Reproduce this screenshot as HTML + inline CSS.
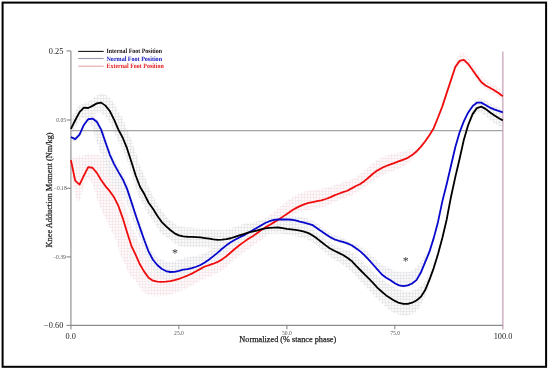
<!DOCTYPE html>
<html><head><meta charset="utf-8"><style>html,body{margin:0;padding:0;background:#fff;width:550px;height:370px;overflow:hidden}svg{display:block}</style></head>
<body><svg width="550" height="370" viewBox="0 0 550 370">
<defs>
<filter id="soft" x="0" y="0" width="550" height="370" filterUnits="userSpaceOnUse"><feConvolveMatrix color-interpolation-filters="sRGB" order="3" kernelMatrix="1 8 1 8 64 8 1 8 1" divisor="100" edgeMode="duplicate"/></filter>
<pattern id="pg" width="3" height="3" patternUnits="userSpaceOnUse">
<rect x="1" y="0" width="1" height="3" fill="#e5e5e5"/><rect x="0" y="2" width="3" height="1" fill="#e5e5e5"/>
</pattern>
<pattern id="pb" width="3" height="3" patternUnits="userSpaceOnUse">
<rect x="1" y="0" width="1" height="3" fill="#e6e5ea"/><rect x="0" y="2" width="3" height="1" fill="#e6e5ea"/>
</pattern>
<pattern id="pr" width="3" height="3" patternUnits="userSpaceOnUse">
<rect x="1" y="0" width="1" height="3" fill="#f6e6e9"/><rect x="0" y="2" width="3" height="1" fill="#f6e6e9"/>
</pattern>
</defs>
<rect width="550" height="370" fill="#fff"/>
<g filter="url(#soft)">
<rect width="550" height="370" fill="#fff"/>
<path d="M70.7,155.0 71.7,157.5 72.7,158.0 73.7,157.7 74.7,156.4 75.7,157.1 76.7,157.9 77.7,157.7 78.7,156.6 79.7,155.4 80.7,156.0 81.7,156.2 82.7,155.9 83.7,155.5 84.7,154.9 85.7,154.4 86.7,154.2 87.7,154.4 88.7,154.0 89.7,153.7 90.7,153.9 91.7,154.4 92.7,154.5 93.7,154.4 94.7,154.5 95.7,154.7 96.7,154.7 97.7,154.8 98.7,154.9 99.7,155.0 100.7,156.3 101.7,158.1 102.7,159.9 103.7,161.6 104.7,163.2 105.7,164.6 106.7,165.8 107.7,167.0 108.7,168.2 109.7,169.4 110.7,170.6 111.7,171.8 112.7,173.2 113.7,174.7 114.7,176.3 115.7,178.2 116.7,180.2 117.7,182.5 118.7,185.0 119.7,187.7 120.7,190.5 121.7,193.5 122.7,196.6 123.7,199.8 124.7,203.2 125.7,206.6 126.7,210.0 127.7,213.5 128.7,217.0 129.7,220.3 130.7,223.3 131.7,225.9 132.7,228.0 133.7,229.9 134.7,231.9 135.7,234.0 136.7,236.4 137.7,238.9 138.7,241.3 139.7,243.7 140.7,245.9 141.7,247.9 142.7,249.8 143.7,251.4 144.7,253.0 145.7,254.4 146.7,255.6 147.7,256.7 148.7,257.7 149.7,258.5 150.7,260.1 151.7,261.9 152.7,263.6 153.7,265.3 154.7,266.8 155.7,268.3 156.7,269.7 157.7,271.0 158.7,272.3 159.7,273.6 160.7,274.0 161.7,274.0 162.7,274.0 163.7,274.0 164.7,273.9 165.7,273.8 166.7,273.7 167.7,273.6 168.7,273.5 169.7,273.3 170.7,273.1 171.7,272.9 172.7,272.7 173.7,272.5 174.7,272.2 175.7,272.0 176.7,271.7 177.7,271.4 178.7,271.1 179.7,270.7 180.7,270.4 181.7,270.0 182.7,269.6 183.7,269.2 184.7,268.8 185.7,268.4 186.7,267.9 187.7,267.5 188.7,267.0 189.7,266.5 190.7,266.0 191.7,265.5 192.7,264.9 193.7,264.4 194.7,263.9 195.7,263.3 196.7,262.8 197.7,262.3 198.7,261.7 199.7,261.2 200.7,260.7 201.7,260.2 202.7,259.7 203.7,259.3 204.7,258.8 205.7,258.4 206.7,258.1 207.7,257.7 208.7,257.4 209.7,257.0 210.7,256.7 211.7,256.3 212.7,256.0 213.7,255.6 214.7,255.2 215.7,254.8 216.7,254.4 217.7,254.0 218.7,253.5 219.7,253.0 220.7,252.4 221.7,251.8 222.7,251.2 223.7,250.5 224.7,249.7 225.7,248.9 226.7,248.0 227.7,247.2 228.7,246.3 229.7,245.4 230.7,244.5 231.7,243.6 232.7,242.8 233.7,241.9 234.7,241.1 235.7,240.3 236.7,239.5 237.7,238.7 238.7,237.9 239.7,237.1 240.7,236.3 241.7,235.6 242.7,234.8 243.7,234.1 244.7,233.4 245.7,232.6 246.7,231.9 247.7,231.2 248.7,230.5 249.7,229.8 250.7,229.2 251.7,228.5 252.7,227.8 253.7,227.1 254.7,226.5 255.7,225.8 256.7,225.2 257.7,224.5 258.7,223.9 259.7,223.2 260.7,222.6 261.7,222.0 262.7,221.2 263.7,220.3 264.7,219.5 265.7,218.6 266.7,217.8 267.7,216.9 268.7,216.1 269.7,215.2 270.7,214.4 271.7,213.5 272.7,212.7 273.7,211.8 274.7,210.9 275.7,210.1 276.7,209.4 277.7,208.6 278.7,207.8 279.7,207.1 280.7,206.3 281.7,205.5 282.7,204.7 283.7,203.9 284.7,203.1 285.7,202.3 286.7,201.5 287.7,200.6 288.7,199.8 289.7,199.0 290.7,198.3 291.7,197.7 292.7,197.1 293.7,196.5 294.7,195.9 295.7,195.4 296.7,194.9 297.7,194.3 298.7,193.9 299.7,193.4 300.7,193.0 301.7,192.6 302.7,192.3 303.7,192.0 304.7,191.7 305.7,191.4 306.7,191.2 307.7,191.0 308.7,190.8 309.7,190.6 310.7,190.4 311.7,190.3 312.7,190.1 313.7,190.0 314.7,189.9 315.7,189.7 316.7,189.6 317.7,189.5 318.7,189.3 319.7,189.2 320.7,189.0 321.7,188.8 322.7,188.6 323.7,188.4 324.7,188.1 325.7,187.9 326.7,187.6 327.7,187.3 328.7,187.0 329.7,186.7 330.7,186.4 331.7,186.1 332.7,185.7 333.7,185.4 334.7,185.1 335.7,184.7 336.7,184.4 337.7,184.0 338.7,183.7 339.7,183.3 340.7,183.0 341.7,182.7 342.7,182.3 343.7,182.0 344.7,181.6 345.7,181.3 346.7,181.0 347.7,180.6 348.7,180.2 349.7,179.9 350.7,179.5 351.7,179.1 352.7,178.7 353.7,178.3 354.7,177.9 355.7,177.4 356.7,176.8 357.7,176.0 358.7,175.1 359.7,174.3 360.7,173.4 361.7,172.5 362.7,171.6 363.7,170.7 364.7,169.9 365.7,169.1 366.7,168.3 367.7,167.5 368.7,166.7 369.7,165.8 370.7,164.9 371.7,164.1 372.7,163.2 373.7,162.5 374.7,161.7 375.7,161.0 376.7,160.3 377.7,159.7 378.7,159.1 379.7,158.5 380.7,158.0 381.7,157.5 382.7,157.1 383.7,156.7 384.7,156.3 385.7,155.9 386.7,155.6 387.7,155.2 388.7,154.9 389.7,154.6 390.7,154.4 391.7,154.1 392.7,153.9 393.7,153.6 394.7,153.4 395.7,153.2 396.7,152.9 397.7,152.7 398.7,152.5 399.7,152.2 400.7,152.0 401.7,151.8 402.7,151.5 403.7,151.3 404.7,151.0 405.7,150.7 406.7,150.4 407.7,150.0 408.7,149.6 409.7,149.1 410.7,149.2 411.7,149.4 412.7,149.6 413.7,149.7 414.7,149.8 415.7,149.5 416.7,148.9 417.7,148.3 418.7,147.7 419.7,147.0 420.7,145.9 421.7,144.8 422.7,143.5 423.7,142.3 424.7,141.0 425.7,139.6 426.7,138.3 427.7,136.9 428.7,135.5 429.7,134.1 430.7,132.6 431.7,131.1 432.7,129.2 433.7,127.1 434.7,124.6 435.7,122.1 436.7,119.7 437.7,117.4 438.7,115.1 439.7,112.8 440.7,110.2 441.7,107.4 442.7,104.4 443.7,101.3 444.7,98.2 445.7,95.0 446.7,91.8 447.7,88.7 448.7,85.7 449.7,82.7 450.7,79.2 451.7,75.4 452.7,71.5 453.7,67.6 454.7,64.0 455.7,61.1 456.7,58.9 457.7,57.0 458.7,55.5 459.7,54.4 460.7,53.6 461.7,53.2 462.7,53.0 463.7,53.3 464.7,53.9 465.7,54.7 466.7,55.7 467.7,56.9 468.7,58.2 469.7,59.7 470.7,61.2 471.7,62.7 472.7,64.2 473.7,65.8 474.7,67.4 475.7,69.0 476.7,70.5 477.7,71.9 478.7,73.2 479.7,74.4 480.7,75.5 481.7,76.5 482.7,77.5 483.7,78.3 484.7,79.1 485.7,79.9 486.7,80.6 487.7,81.2 488.7,81.8 489.7,82.4 490.7,83.0 491.7,83.6 492.7,84.1 493.7,84.7 494.7,85.3 495.7,85.9 496.7,86.5 497.7,87.2 498.7,87.9 499.7,88.7 500.7,89.5 501.7,90.5 502.4,91.1 502.4,100.2 501.7,99.5 500.7,98.6 499.7,97.8 498.7,97.1 497.7,96.4 496.7,95.7 495.7,95.1 494.7,94.5 493.7,94.0 492.7,93.4 491.7,92.9 490.7,92.4 489.7,91.8 488.7,91.3 487.7,90.7 486.7,90.1 485.7,89.4 484.7,88.7 483.7,87.9 482.7,87.1 481.7,86.2 480.7,85.2 479.7,84.1 478.7,82.9 477.7,81.6 476.7,80.3 475.7,78.8 474.7,77.3 473.7,75.7 472.7,74.2 471.7,72.6 470.7,71.1 469.7,69.7 468.7,68.4 467.7,67.1 466.7,66.1 465.7,65.1 464.7,64.4 463.7,63.9 462.7,63.6 461.7,63.6 460.7,63.8 459.7,64.4 458.7,65.3 457.7,66.6 456.7,68.2 455.7,70.3 454.7,72.5 453.7,74.8 452.7,77.2 451.7,79.8 450.7,82.2 449.7,84.7 448.7,87.7 447.7,90.7 446.7,93.8 445.7,97.0 444.7,100.2 443.7,103.3 442.7,106.4 441.7,109.4 440.7,112.2 439.7,114.8 438.7,117.1 437.7,119.4 436.7,121.7 435.7,124.1 434.7,126.6 433.7,129.1 432.7,131.2 431.7,133.1 430.7,134.6 429.7,136.1 428.7,137.5 427.7,138.9 426.7,140.3 425.7,141.6 424.7,143.0 423.7,144.3 422.7,145.5 421.7,146.8 420.7,147.9 419.7,149.2 418.7,150.7 417.7,152.2 416.7,153.6 415.7,154.9 414.7,156.3 413.7,157.6 412.7,158.8 411.7,160.0 410.7,161.2 409.7,162.2 408.7,163.0 407.7,163.7 406.7,164.5 405.7,165.1 404.7,165.8 403.7,166.4 402.7,167.0 401.7,167.5 400.7,168.1 399.7,168.5 398.7,168.9 397.7,169.3 396.7,169.6 395.7,170.0 394.7,170.4 393.7,170.7 392.7,171.1 391.7,171.4 390.7,171.8 389.7,172.2 388.7,172.6 387.7,173.1 386.7,173.5 385.7,174.0 384.7,174.5 383.7,175.0 382.7,175.4 381.7,175.9 380.7,176.3 379.7,176.8 378.7,177.4 377.7,178.0 376.7,178.6 375.7,179.2 374.7,179.9 373.7,180.6 372.7,181.3 371.7,182.1 370.7,182.9 369.7,183.6 368.7,184.4 367.7,185.2 366.7,186.0 365.7,186.7 364.7,187.3 363.7,188.0 362.7,188.8 361.7,189.5 360.7,190.2 359.7,190.8 358.7,191.5 357.7,192.1 356.7,192.7 355.7,193.3 354.7,193.8 353.7,194.2 352.7,194.7 351.7,195.1 350.7,195.6 349.7,196.0 348.7,196.4 347.7,196.8 346.7,197.2 345.7,197.6 344.7,198.0 343.7,198.4 342.7,198.8 341.7,199.2 340.7,199.6 339.7,200.0 338.7,200.3 337.7,200.7 336.7,201.1 335.7,201.5 334.7,201.9 333.7,202.4 332.7,202.9 331.7,203.4 330.7,203.8 329.7,204.3 328.7,204.8 327.7,205.3 326.7,205.7 325.7,206.2 324.7,206.6 323.7,207.0 322.7,207.4 321.7,207.6 320.7,207.9 319.7,208.1 318.7,208.4 317.7,208.6 316.7,208.8 315.7,209.0 314.7,209.2 313.7,209.4 312.7,209.6 311.7,209.8 310.7,209.9 309.7,210.0 308.7,210.1 307.7,210.3 306.7,210.5 305.7,210.7 304.7,210.9 303.7,211.1 302.7,211.4 301.7,211.7 300.7,212.0 299.7,212.2 298.7,212.5 297.7,212.8 296.7,213.1 295.7,213.5 294.7,213.8 293.7,214.2 292.7,214.7 291.7,215.1 290.7,215.7 289.7,216.6 288.7,217.5 287.7,218.4 286.7,219.4 285.7,220.3 284.7,221.2 283.7,222.1 282.7,223.1 281.7,224.0 280.7,224.9 279.7,225.7 278.7,226.5 277.7,227.3 276.7,228.1 275.7,228.9 274.7,229.7 273.7,230.4 272.7,231.2 271.7,232.0 270.7,232.8 269.7,233.5 268.7,234.3 267.7,235.1 266.7,235.8 265.7,236.6 264.7,237.4 263.7,238.2 262.7,238.9 261.7,239.7 260.7,240.4 259.7,241.1 258.7,241.7 257.7,242.4 256.7,243.1 255.7,243.8 254.7,244.5 253.7,245.3 252.7,246.0 251.7,246.7 250.7,247.4 249.7,248.2 248.7,248.9 247.7,249.6 246.7,250.4 245.7,251.1 244.7,251.9 243.7,252.6 242.7,253.3 241.7,254.1 240.7,254.8 239.7,255.6 238.7,256.4 237.7,257.2 236.7,258.0 235.7,258.8 234.7,259.6 233.7,260.4 232.7,261.3 231.7,262.1 230.7,263.0 229.7,263.9 228.7,264.8 227.7,265.8 226.7,266.7 225.7,267.6 224.7,268.5 223.7,269.3 222.7,270.1 221.7,270.8 220.7,271.4 219.7,272.0 218.7,272.6 217.7,273.1 216.7,273.6 215.7,274.1 214.7,274.6 213.7,275.0 212.7,275.4 211.7,275.8 210.7,276.2 209.7,276.6 208.7,277.0 207.7,277.4 206.7,277.8 205.7,278.3 204.7,278.7 203.7,279.1 202.7,279.6 201.7,280.1 200.7,280.6 199.7,281.1 198.7,281.7 197.7,282.2 196.7,282.8 195.7,283.3 194.7,283.9 193.7,284.4 192.7,284.9 191.7,285.5 190.7,286.0 189.7,286.5 188.7,287.0 187.7,287.5 186.7,287.9 185.7,288.4 184.7,288.8 183.7,289.2 182.7,289.7 181.7,290.2 180.7,290.7 179.7,291.1 178.7,291.5 177.7,292.0 176.7,292.4 175.7,292.7 174.7,293.1 173.7,293.4 172.7,293.8 171.7,294.1 170.7,294.4 169.7,294.6 168.7,294.9 167.7,295.1 166.7,295.3 165.7,295.5 164.7,295.7 163.7,295.8 162.7,295.9 161.7,296.1 160.7,296.2 159.7,296.2 158.7,296.3 157.7,296.3 156.7,296.3 155.7,296.2 154.7,296.0 153.7,295.8 152.7,295.5 151.7,295.1 150.7,295.1 149.7,295.0 148.7,294.9 147.7,294.6 146.7,294.2 145.7,293.7 144.7,293.1 143.7,292.3 142.7,291.3 141.7,290.3 140.7,289.0 139.7,287.6 138.7,286.1 137.7,284.4 136.7,282.7 135.7,281.2 134.7,279.9 133.7,279.3 132.7,278.6 131.7,277.8 130.7,276.5 129.7,274.8 128.7,272.8 127.7,270.6 126.7,268.4 125.7,266.0 124.7,263.8 123.7,261.5 122.7,259.4 121.7,257.4 120.7,255.6 119.7,253.2 118.7,249.5 117.7,245.9 116.7,242.6 115.7,239.5 114.7,237.1 113.7,235.1 112.7,233.2 111.7,231.3 110.7,229.1 109.7,227.0 108.7,224.9 107.7,222.8 106.7,220.8 105.7,218.9 104.7,216.9 103.7,214.8 102.7,212.6 101.7,210.4 100.7,208.1 99.7,205.9 98.7,203.6 97.7,201.4 96.7,197.8 95.7,194.1 94.7,190.6 93.7,187.4 92.7,185.1 91.7,183.1 90.7,181.2 89.7,179.8 88.7,179.0 87.7,178.8 86.7,179.3 85.7,180.2 84.7,181.4 83.7,184.2 82.7,190.2 81.7,195.3 80.7,198.3 79.7,200.4 78.7,200.8 77.7,200.5 76.7,199.2 75.7,197.0 74.7,193.4 73.7,187.9 72.7,181.5 71.7,174.3 70.7,167.0Z" fill="url(#pr)"/>
<path d="M71.0,135.0 72.0,136.7 73.0,137.6 74.0,137.7 75.0,137.2 76.0,136.4 77.0,135.3 78.0,134.1 79.0,133.1 80.0,132.1 81.0,130.5 82.0,127.7 83.0,124.2 84.0,121.4 85.0,119.3 86.0,117.9 87.0,117.0 88.0,116.5 89.0,116.2 90.0,115.9 91.0,115.7 92.0,115.6 93.0,115.8 94.0,116.1 95.0,116.8 96.0,117.7 97.0,118.9 98.0,120.3 99.0,122.0 100.0,124.0 101.0,125.7 102.0,127.7 103.0,129.9 104.0,132.3 105.0,134.9 106.0,138.0 107.0,141.1 108.0,144.1 109.0,146.9 110.0,149.5 111.0,151.9 112.0,154.1 113.0,156.2 114.0,158.1 115.0,159.9 116.0,161.7 117.0,163.3 118.0,165.0 119.0,166.6 120.0,168.3 121.0,170.0 122.0,171.7 123.0,173.6 124.0,175.6 125.0,177.7 126.0,180.0 127.0,182.4 128.0,185.1 129.0,188.0 130.0,191.1 131.0,194.4 132.0,197.8 133.0,201.2 134.0,204.4 135.0,207.5 136.0,210.4 137.0,213.2 138.0,215.9 139.0,218.8 140.0,221.7 141.0,224.7 142.0,227.7 143.0,230.7 144.0,233.7 145.0,236.5 146.0,239.3 147.0,241.8 148.0,244.2 149.0,246.4 150.0,248.5 151.0,250.1 152.0,251.6 153.0,253.0 154.0,254.2 155.0,255.3 156.0,256.3 157.0,257.2 158.0,257.9 159.0,258.6 160.0,259.1 161.0,259.6 162.0,260.0 163.0,260.3 164.0,260.5 165.0,260.7 166.0,260.9 167.0,261.1 168.0,261.2 169.0,261.3 170.0,261.3 171.0,261.3 172.0,261.2 173.0,261.1 174.0,260.9 175.0,260.7 176.0,260.5 177.0,260.2 178.0,259.9 179.0,259.7 180.0,259.3 181.0,259.0 182.0,258.7 183.0,258.3 184.0,258.0 185.0,257.6 186.0,257.5 187.0,257.4 188.0,257.3 189.0,257.1 190.0,257.0 191.0,256.9 192.0,256.8 193.0,256.6 194.0,256.5 195.0,256.3 196.0,256.1 197.0,255.9 198.0,255.7 199.0,255.4 200.0,255.1 201.0,254.8 202.0,254.4 203.0,254.0 204.0,253.6 205.0,253.1 206.0,252.6 207.0,252.1 208.0,251.5 209.0,250.8 210.0,250.2 211.0,249.4 212.0,248.7 213.0,248.0 214.0,247.2 215.0,246.4 216.0,245.6 217.0,244.8 218.0,244.0 219.0,243.2 220.0,242.4 221.0,241.5 222.0,240.6 223.0,239.7 224.0,238.9 225.0,238.1 226.0,237.3 227.0,236.5 228.0,235.7 229.0,235.0 230.0,234.2 231.0,233.5 232.0,232.8 233.0,232.2 234.0,231.5 235.0,230.9 236.0,230.2 237.0,229.6 238.0,229.0 239.0,228.4 240.0,227.8 241.0,227.2 242.0,226.6 243.0,226.0 244.0,225.4 245.0,224.8 246.0,224.3 247.0,224.0 248.0,223.8 249.0,223.5 250.0,223.2 251.0,223.0 252.0,222.7 253.0,222.4 254.0,222.1 255.0,221.8 256.0,221.6 257.0,221.3 258.0,221.0 259.0,220.7 260.0,220.4 261.0,220.2 262.0,219.9 263.0,219.5 264.0,219.2 265.0,218.8 266.0,218.5 267.0,218.2 268.0,217.9 269.0,217.7 270.0,217.4 271.0,217.2 272.0,217.0 273.0,216.9 274.0,216.7 275.0,216.7 276.0,216.4 277.0,216.1 278.0,215.9 279.0,215.7 280.0,215.6 281.0,215.5 282.0,215.5 283.0,215.5 284.0,215.5 285.0,215.5 286.0,215.5 287.0,215.6 288.0,215.6 289.0,215.7 290.0,215.7 291.0,215.8 292.0,215.8 293.0,215.9 294.0,215.9 295.0,216.0 296.0,216.1 297.0,216.2 298.0,216.3 299.0,216.4 300.0,216.5 301.0,216.7 302.0,216.9 303.0,217.2 304.0,217.4 305.0,217.7 306.0,218.0 307.0,218.3 308.0,218.6 309.0,219.0 310.0,219.4 311.0,219.9 312.0,220.3 313.0,220.9 314.0,221.4 315.0,222.0 316.0,222.7 317.0,223.4 318.0,224.1 319.0,224.8 320.0,225.6 321.0,226.4 322.0,227.2 323.0,228.0 324.0,228.8 325.0,229.6 326.0,230.3 327.0,231.1 328.0,231.8 329.0,232.5 330.0,233.1 331.0,233.7 332.0,234.2 333.0,234.7 334.0,235.1 335.0,235.5 336.0,235.8 337.0,236.1 338.0,236.4 339.0,236.7 340.0,237.0 341.0,237.4 342.0,237.9 343.0,238.4 344.0,239.0 345.0,239.5 346.0,240.1 347.0,240.7 348.0,241.3 349.0,241.9 350.0,242.6 351.0,242.8 352.0,243.0 353.0,243.3 354.0,243.5 355.0,243.9 356.0,244.2 357.0,244.6 358.0,245.1 359.0,245.6 360.0,246.1 361.0,246.7 362.0,247.4 363.0,248.2 364.0,248.9 365.0,249.7 366.0,250.5 367.0,251.4 368.0,252.2 369.0,253.1 370.0,254.0 371.0,254.9 372.0,255.9 373.0,256.8 374.0,257.8 375.0,258.8 376.0,259.7 377.0,260.7 378.0,261.6 379.0,262.5 380.0,263.4 381.0,264.3 382.0,265.0 383.0,265.6 384.0,266.0 385.0,266.3 386.0,266.5 387.0,266.8 388.0,267.1 389.0,267.5 390.0,268.0 391.0,268.7 392.0,269.3 393.0,269.8 394.0,270.3 395.0,270.7 396.0,271.1 397.0,271.4 398.0,271.7 399.0,271.9 400.0,272.1 401.0,272.2 402.0,272.3 403.0,272.3 404.0,272.2 405.0,272.1 406.0,272.1 407.0,272.1 408.0,272.0 409.0,271.8 410.0,271.6 411.0,271.2 412.0,270.8 413.0,270.2 414.0,269.5 415.0,268.8 416.0,267.9 417.0,266.9 418.0,265.7 419.0,264.3 420.0,262.8 421.0,261.6 422.0,260.2 423.0,258.4 424.0,256.5 425.0,254.9 426.0,253.9 427.0,252.9 428.0,251.5 429.0,249.3 430.0,246.7 431.0,243.9 432.0,241.0 433.0,237.9 434.0,234.9 435.0,232.0 436.0,228.7 437.0,225.2 438.0,221.1 439.0,215.9 440.0,210.1 441.0,204.7 442.0,200.4 443.0,196.6 444.0,193.1 445.0,189.4 446.0,185.5 447.0,181.4 448.0,177.2 449.0,173.0 450.0,168.6 451.0,164.1 452.0,159.5 453.0,154.9 454.0,150.6 455.0,146.8 456.0,143.6 457.0,140.3 458.0,136.4 459.0,132.4 460.0,129.2 461.0,126.5 462.0,124.1 463.0,121.7 464.0,119.3 465.0,117.0 466.0,114.8 467.0,112.9 468.0,111.2 469.0,109.7 470.0,108.2 471.0,106.4 472.0,104.6 473.0,103.0 474.0,101.6 475.0,100.4 476.0,99.6 477.0,98.9 478.0,98.4 479.0,98.1 480.0,98.0 481.0,98.3 482.0,98.7 483.0,99.2 484.0,99.7 485.0,100.3 486.0,100.8 487.0,101.4 488.0,102.0 489.0,102.6 490.0,103.1 491.0,103.7 492.0,104.2 493.0,104.7 494.0,105.2 495.0,105.7 496.0,106.2 497.0,106.6 498.0,107.0 499.0,107.3 500.0,107.7 501.0,107.9 502.0,108.2 502.4,108.2 502.4,116.3 502.0,116.2 501.0,116.0 500.0,115.7 499.0,115.4 498.0,115.1 497.0,114.7 496.0,114.3 495.0,113.9 494.0,113.4 493.0,113.0 492.0,112.5 491.0,111.9 490.0,111.4 489.0,110.9 488.0,110.3 487.0,109.8 486.0,109.2 485.0,108.7 484.0,108.1 483.0,107.6 482.0,107.1 481.0,106.8 480.0,106.5 479.0,106.1 478.0,105.8 477.0,105.7 476.0,105.9 475.0,106.2 474.0,106.8 473.0,107.6 472.0,108.7 471.0,110.0 470.0,111.2 469.0,112.7 468.0,114.2 467.0,115.8 466.0,117.7 465.0,119.9 464.0,122.2 463.0,124.6 462.0,127.0 461.0,129.4 460.0,132.1 459.0,135.3 458.0,139.3 457.0,143.2 456.0,146.4 455.0,149.7 454.0,153.5 453.0,157.8 452.0,162.3 451.0,166.9 450.0,171.4 449.0,175.7 448.0,180.0 447.0,184.2 446.0,188.2 445.0,192.2 444.0,195.8 443.0,199.3 442.0,203.1 441.0,207.4 440.0,212.8 439.0,218.6 438.0,223.8 437.0,227.9 436.0,231.4 435.0,234.7 434.0,238.1 433.0,241.6 432.0,245.1 431.0,248.5 430.0,251.8 429.0,254.9 428.0,257.6 427.0,259.8 426.0,261.7 425.0,263.6 424.0,266.0 423.0,268.8 422.0,271.4 421.0,273.8 420.0,275.8 419.0,277.5 418.0,279.0 417.0,280.3 416.0,281.5 415.0,282.5 414.0,283.4 413.0,284.2 412.0,284.9 411.0,285.5 410.0,286.0 409.0,286.5 408.0,286.8 407.0,287.0 406.0,287.2 405.0,287.3 404.0,287.3 403.0,287.2 402.0,287.1 401.0,286.9 400.0,286.7 399.0,286.4 398.0,286.1 397.0,285.7 396.0,285.2 395.0,284.7 394.0,284.2 393.0,283.6 392.0,282.9 391.0,282.2 390.0,281.4 389.0,280.7 388.0,280.0 387.0,279.4 386.0,278.9 385.0,278.4 384.0,277.9 383.0,277.2 382.0,276.3 381.0,275.4 380.0,274.3 379.0,273.2 378.0,272.0 377.0,270.8 376.0,269.6 375.0,268.4 374.0,267.2 373.0,266.1 372.0,264.9 371.0,263.8 370.0,262.7 369.0,261.6 368.0,260.5 367.0,259.5 366.0,258.4 365.0,257.4 364.0,256.5 363.0,255.5 362.0,254.6 361.0,253.7 360.0,252.9 359.0,252.1 358.0,251.3 357.0,250.6 356.0,249.9 355.0,249.2 354.0,248.6 353.0,248.0 352.0,247.5 351.0,247.0 350.0,246.5 349.0,246.1 348.0,245.6 347.0,245.2 346.0,244.9 345.0,244.5 344.0,244.2 343.0,243.9 342.0,243.6 341.0,243.3 340.0,243.1 339.0,242.8 338.0,242.6 337.0,242.3 336.0,242.1 335.0,241.8 334.0,241.5 333.0,241.1 332.0,240.7 331.0,240.2 330.0,239.7 329.0,239.1 328.0,238.5 327.0,237.8 326.0,237.1 325.0,236.4 324.0,235.6 323.0,234.9 322.0,234.1 321.0,233.4 320.0,232.7 319.0,231.9 318.0,231.2 317.0,230.6 316.0,229.9 315.0,229.3 314.0,228.8 313.0,228.2 312.0,227.8 311.0,227.3 310.0,226.9 309.0,226.6 308.0,226.3 307.0,226.0 306.0,225.7 305.0,225.4 304.0,225.2 303.0,225.0 302.0,224.8 301.0,224.6 300.0,224.5 299.0,224.3 298.0,224.2 297.0,224.0 296.0,223.9 295.0,223.8 294.0,223.6 293.0,223.5 292.0,223.4 291.0,223.3 290.0,223.2 289.0,223.1 288.0,223.0 287.0,222.9 286.0,222.8 285.0,222.7 284.0,222.6 283.0,222.6 282.0,222.5 281.0,222.5 280.0,222.5 279.0,222.6 278.0,222.7 277.0,222.9 276.0,223.1 275.0,223.3 274.0,223.6 273.0,223.9 272.0,224.2 271.0,224.6 270.0,225.0 269.0,225.4 268.0,225.8 267.0,226.3 266.0,226.8 265.0,227.3 264.0,227.8 263.0,228.4 262.0,228.9 261.0,229.5 260.0,230.1 259.0,230.7 258.0,231.3 257.0,232.0 256.0,232.6 255.0,233.2 254.0,233.8 253.0,234.5 252.0,235.1 251.0,235.7 250.0,236.3 249.0,236.9 248.0,237.5 247.0,238.1 246.0,238.7 245.0,239.3 244.0,239.8 243.0,240.4 242.0,241.0 241.0,241.5 240.0,242.1 239.0,242.7 238.0,243.2 237.0,243.8 236.0,244.4 235.0,245.0 234.0,245.6 233.0,246.2 232.0,246.8 231.0,247.5 230.0,248.1 229.0,248.8 228.0,249.5 227.0,250.3 226.0,251.0 225.0,251.8 224.0,252.5 223.0,253.4 222.0,254.2 221.0,255.1 220.0,255.9 219.0,256.8 218.0,257.8 217.0,258.7 216.0,259.6 215.0,260.5 214.0,261.4 213.0,262.3 212.0,263.2 211.0,264.1 210.0,264.9 209.0,265.7 208.0,266.5 207.0,267.2 206.0,267.9 205.0,268.5 204.0,269.1 203.0,269.7 202.0,270.2 201.0,270.7 200.0,271.1 199.0,271.6 198.0,272.1 197.0,272.5 196.0,272.9 195.0,273.3 194.0,273.7 193.0,274.0 192.0,274.4 191.0,274.7 190.0,275.0 189.0,275.3 188.0,275.7 187.0,276.0 186.0,276.3 185.0,276.6 184.0,277.0 183.0,277.3 182.0,277.6 181.0,277.9 180.0,278.2 179.0,278.5 178.0,278.7 177.0,279.0 176.0,279.2 175.0,279.4 174.0,279.5 173.0,279.7 172.0,279.7 171.0,279.8 170.0,279.8 169.0,279.8 168.0,279.7 167.0,279.6 166.0,279.4 165.0,279.2 164.0,278.8 163.0,278.5 162.0,278.0 161.0,277.4 160.0,276.8 159.0,276.1 158.0,275.3 157.0,274.3 156.0,273.3 155.0,272.2 154.0,270.9 153.0,269.5 152.0,268.0 151.0,266.3 150.0,264.5 149.0,262.6 148.0,260.6 147.0,258.4 146.0,256.1 145.0,253.5 144.0,250.9 143.0,248.1 142.0,245.3 141.0,242.5 140.0,239.7 139.0,237.1 138.0,234.5 137.0,232.1 136.0,229.6 135.0,227.0 134.0,224.2 133.0,221.3 132.0,218.2 131.0,215.1 130.0,212.1 129.0,209.3 128.0,206.7 127.0,204.3 126.0,202.2 125.0,200.2 124.0,198.4 123.0,196.7 122.0,195.1 121.0,193.7 120.0,192.3 119.0,191.0 118.0,189.8 117.0,188.5 116.0,187.3 115.0,185.9 114.0,184.5 113.0,183.0 112.0,181.3 111.0,179.5 110.0,177.5 109.0,175.5 108.0,173.3 107.0,170.9 106.0,168.4 105.0,165.9 104.0,162.7 103.0,159.7 102.0,156.9 101.0,154.3 100.0,152.0 99.0,148.7 98.0,145.7 97.0,143.0 96.0,140.6 95.0,136.6 94.0,132.9 93.0,129.5 92.0,126.4 91.0,125.2 90.0,124.1 89.0,123.0 88.0,122.1 87.0,122.5 86.0,123.3 85.0,124.6 84.0,126.6 83.0,129.3 82.0,132.7 81.0,135.5 80.0,137.0 79.0,137.9 78.0,138.8 77.0,139.8 76.0,140.8 75.0,141.6 74.0,142.0 73.0,141.8 72.0,140.8 71.0,139.0Z" fill="url(#pb)"/>
<path d="M71.0,119.4 72.0,117.7 73.0,115.8 74.0,113.8 75.0,111.7 76.0,109.7 77.0,107.7 78.0,106.5 79.0,105.6 80.0,104.8 81.0,104.4 82.0,104.2 83.0,104.2 84.0,103.4 85.0,102.8 86.0,102.4 87.0,102.1 88.0,101.9 89.0,101.5 90.0,101.0 91.0,100.3 92.0,99.4 93.0,98.5 94.0,97.5 95.0,96.6 96.0,95.9 97.0,95.3 98.0,95.0 99.0,94.5 100.0,94.1 101.0,93.8 102.0,93.7 103.0,93.8 104.0,94.0 105.0,94.3 106.0,94.8 107.0,95.4 108.0,96.3 109.0,97.3 110.0,98.0 111.0,98.9 112.0,100.1 113.0,101.6 114.0,103.3 115.0,105.1 116.0,107.1 117.0,109.1 118.0,110.9 119.0,112.6 120.0,114.2 121.0,115.8 122.0,117.5 123.0,119.5 124.0,121.7 125.0,124.1 126.0,126.6 127.0,129.3 128.0,131.5 129.0,133.9 130.0,136.4 131.0,139.0 132.0,141.6 133.0,144.2 134.0,147.4 135.0,150.5 136.0,153.4 137.0,156.3 138.0,159.8 139.0,163.1 140.0,166.0 141.0,168.6 142.0,170.6 143.0,172.6 144.0,174.8 145.0,177.3 146.0,180.1 147.0,183.1 148.0,185.7 149.0,188.0 150.0,190.1 151.0,192.1 152.0,193.9 153.0,195.7 154.0,197.8 155.0,199.9 156.0,202.1 157.0,204.1 158.0,205.6 159.0,207.0 160.0,208.3 161.0,209.5 162.0,210.5 163.0,211.8 164.0,213.3 165.0,214.7 166.0,216.1 167.0,217.4 168.0,218.4 169.0,219.2 170.0,220.1 171.0,221.0 172.0,221.8 173.0,222.6 174.0,223.4 175.0,224.1 176.0,224.7 177.0,225.3 178.0,225.7 179.0,226.1 180.0,226.4 181.0,226.7 182.0,226.9 183.0,227.1 184.0,227.2 185.0,227.3 186.0,227.4 187.0,227.4 188.0,227.5 189.0,227.5 190.0,227.5 191.0,227.6 192.0,227.6 193.0,227.7 194.0,227.8 195.0,227.9 196.0,228.1 197.0,228.2 198.0,228.4 199.0,228.6 200.0,228.7 201.0,228.7 202.0,228.8 203.0,228.8 204.0,228.8 205.0,228.8 206.0,228.8 207.0,228.8 208.0,228.8 209.0,228.8 210.0,228.8 211.0,229.0 212.0,229.2 213.0,229.3 214.0,229.5 215.0,229.6 216.0,229.7 217.0,229.8 218.0,229.9 219.0,230.0 220.0,230.0 221.0,230.0 222.0,230.0 223.0,229.9 224.0,229.7 225.0,229.6 226.0,229.4 227.0,229.2 228.0,229.0 229.0,228.7 230.0,228.5 231.0,228.2 232.0,227.9 233.0,227.6 234.0,227.3 235.0,227.0 236.0,226.6 237.0,226.3 238.0,225.9 239.0,225.5 240.0,225.2 241.0,224.8 242.0,224.4 243.0,224.0 244.0,223.9 245.0,223.8 246.0,223.6 247.0,223.5 248.0,223.4 249.0,223.3 250.0,223.1 251.0,222.9 252.0,222.6 253.0,222.4 254.0,222.2 255.0,221.9 256.0,221.7 257.0,221.5 258.0,221.4 259.0,221.2 260.0,221.0 261.0,220.9 262.0,220.7 263.0,220.6 264.0,220.5 265.0,220.4 266.0,220.4 267.0,220.3 268.0,220.3 269.0,220.3 270.0,220.3 271.0,220.3 272.0,220.3 273.0,220.3 274.0,220.4 275.0,220.5 276.0,220.5 277.0,220.6 278.0,220.7 279.0,220.8 280.0,221.0 281.0,221.1 282.0,221.2 283.0,221.3 284.0,221.5 285.0,221.6 286.0,221.8 287.0,222.0 288.0,222.1 289.0,222.3 290.0,222.5 291.0,222.7 292.0,222.9 293.0,223.1 294.0,223.2 295.0,223.5 296.0,223.7 297.0,223.9 298.0,224.1 299.0,224.3 300.0,224.6 301.0,224.8 302.0,225.0 303.0,225.3 304.0,225.6 305.0,225.9 306.0,226.2 307.0,226.6 308.0,227.0 309.0,227.5 310.0,227.9 311.0,228.5 312.0,229.0 313.0,229.6 314.0,230.3 315.0,231.0 316.0,231.7 317.0,232.4 318.0,233.2 319.0,234.0 320.0,234.8 321.0,235.6 322.0,236.4 323.0,237.2 324.0,238.0 325.0,238.8 326.0,239.6 327.0,240.3 328.0,241.1 329.0,241.8 330.0,242.4 331.0,243.1 332.0,243.7 333.0,244.2 334.0,244.8 335.0,245.3 336.0,245.8 337.0,246.2 338.0,246.7 339.0,247.1 340.0,247.6 341.0,248.1 342.0,248.5 343.0,249.0 344.0,249.6 345.0,250.1 346.0,250.2 347.0,250.3 348.0,250.4 349.0,250.6 350.0,250.9 351.0,251.6 352.0,252.4 353.0,253.2 354.0,254.1 355.0,255.1 356.0,256.0 357.0,257.0 358.0,258.0 359.0,259.0 360.0,259.9 361.0,260.9 362.0,261.8 363.0,262.7 364.0,263.6 365.0,264.4 366.0,265.3 367.0,266.1 368.0,267.0 369.0,267.9 370.0,268.8 371.0,269.7 372.0,270.6 373.0,271.5 374.0,272.4 375.0,273.3 376.0,274.2 377.0,275.0 378.0,275.9 379.0,276.8 380.0,277.6 381.0,278.4 382.0,279.3 383.0,280.0 384.0,280.8 385.0,281.5 386.0,282.2 387.0,282.9 388.0,283.5 389.0,284.1 390.0,284.7 391.0,285.2 392.0,285.7 393.0,286.1 394.0,286.8 395.0,287.4 396.0,287.9 397.0,288.5 398.0,288.9 399.0,289.4 400.0,289.8 401.0,290.1 402.0,290.4 403.0,290.7 404.0,290.9 405.0,291.1 406.0,291.2 407.0,291.2 408.0,291.3 409.0,291.2 410.0,291.2 411.0,291.0 412.0,290.8 413.0,290.5 414.0,290.2 415.0,289.7 416.0,289.4 417.0,289.0 418.0,288.5 419.0,287.9 420.0,287.1 421.0,286.2 422.0,285.2 423.0,284.0 424.0,282.7 425.0,281.2 426.0,279.8 427.0,278.2 428.0,276.3 429.0,274.4 430.0,272.3 431.0,270.1 432.0,268.0 433.0,265.4 434.0,263.0 435.0,260.5 436.0,257.7 437.0,254.4 438.0,250.7 439.0,246.9 440.0,243.3 441.0,239.8 442.0,236.4 443.0,232.8 444.0,228.8 445.0,224.4 446.0,219.6 447.0,214.6 448.0,209.4 449.0,204.1 450.0,198.9 451.0,193.8 452.0,189.0 453.0,184.4 454.0,180.1 455.0,175.8 456.0,171.6 457.0,167.3 458.0,162.9 459.0,158.4 460.0,153.8 461.0,149.2 462.0,144.6 463.0,140.2 464.0,136.0 465.0,132.1 466.0,128.5 467.0,125.3 468.0,122.3 469.0,119.5 470.0,116.9 471.0,114.1 472.0,111.5 473.0,109.2 474.0,107.2 475.0,105.5 476.0,104.2 477.0,103.1 478.0,102.2 479.0,101.8 480.0,101.6 481.0,101.6 482.0,101.7 483.0,102.0 484.0,102.4 485.0,102.8 486.0,103.4 487.0,104.0 488.0,104.6 489.0,105.3 490.0,106.0 491.0,106.9 492.0,107.7 493.0,108.5 494.0,109.3 495.0,110.1 496.0,110.9 497.0,111.6 498.0,112.2 499.0,112.8 500.0,113.4 501.0,113.9 502.0,114.2 502.4,114.3 502.4,127.4 502.0,127.3 501.0,127.0 500.0,126.6 499.0,126.2 498.0,125.6 497.0,125.0 496.0,124.4 495.0,123.7 494.0,123.0 493.0,122.3 492.0,121.5 491.0,120.8 490.0,120.0 489.0,119.0 488.0,118.1 487.0,117.1 486.0,116.3 485.0,115.4 484.0,114.7 483.0,114.0 482.0,113.4 481.0,113.0 480.0,112.8 479.0,112.6 478.0,112.6 477.0,112.9 476.0,113.5 475.0,114.3 474.0,115.4 473.0,116.9 472.0,118.6 471.0,120.7 470.0,122.9 469.0,125.5 468.0,128.3 467.0,131.3 466.0,134.5 465.0,138.1 464.0,142.0 463.0,146.2 462.0,150.6 461.0,155.2 460.0,159.8 459.0,164.4 458.0,168.9 457.0,173.3 456.0,177.6 455.0,181.8 454.0,186.1 453.0,190.4 452.0,195.0 451.0,199.8 450.0,204.9 449.0,210.1 448.0,215.4 447.0,220.6 446.0,225.6 445.0,230.4 444.0,234.8 443.0,238.8 442.0,242.4 441.0,245.8 440.0,249.3 439.0,253.2 438.0,257.2 437.0,261.2 436.0,264.7 435.0,267.7 434.0,270.8 433.0,273.8 432.0,276.9 431.0,279.9 430.0,282.9 429.0,285.9 428.0,288.7 427.0,291.4 426.0,293.9 425.0,296.2 424.0,298.5 423.0,300.6 422.0,302.6 421.0,304.4 420.0,306.1 419.0,307.7 418.0,309.1 417.0,310.4 416.0,311.6 415.0,312.7 414.0,313.3 413.0,313.8 412.0,314.2 411.0,314.6 410.0,314.8 409.0,315.1 408.0,315.2 407.0,315.3 406.0,315.4 405.0,315.4 404.0,315.4 403.0,315.3 402.0,315.2 401.0,315.0 400.0,314.8 399.0,314.5 398.0,314.2 397.0,313.9 396.0,313.5 395.0,313.1 394.0,312.6 393.0,312.1 392.0,311.5 391.0,310.9 390.0,310.2 389.0,309.5 388.0,308.7 387.0,308.0 386.0,307.1 385.0,306.3 384.0,305.4 383.0,304.5 382.0,303.6 381.0,302.6 380.0,301.6 379.0,300.6 378.0,299.6 377.0,298.6 376.0,297.5 375.0,296.5 374.0,295.4 373.0,294.4 372.0,293.3 371.0,292.3 370.0,291.2 369.0,290.2 368.0,289.1 367.0,288.1 366.0,287.1 365.0,286.1 364.0,285.1 363.0,284.1 362.0,283.1 361.0,282.0 360.0,280.9 359.0,279.8 358.0,278.6 357.0,277.5 356.0,276.3 355.0,275.2 354.0,274.1 353.0,273.1 352.0,272.1 351.0,271.2 350.0,270.3 349.0,269.4 348.0,268.5 347.0,267.7 346.0,266.9 345.0,266.2 344.0,265.5 343.0,264.9 342.0,264.2 341.0,263.6 340.0,263.0 339.0,262.4 338.0,261.8 337.0,261.2 336.0,260.6 335.0,260.0 334.0,259.3 333.0,258.7 332.0,258.0 331.0,257.2 330.0,256.4 329.0,255.7 328.0,255.0 327.0,254.2 326.0,253.4 325.0,252.5 324.0,251.7 323.0,250.8 322.0,250.0 321.0,249.1 320.0,248.3 319.0,247.4 318.0,246.6 317.0,245.8 316.0,245.0 315.0,244.2 314.0,243.5 313.0,242.8 312.0,242.1 311.0,241.5 310.0,240.9 309.0,240.4 308.0,239.9 307.0,239.5 306.0,239.0 305.0,238.7 304.0,238.3 303.0,238.0 302.0,237.6 301.0,237.4 300.0,237.1 299.0,236.8 298.0,236.6 297.0,236.4 296.0,236.2 295.0,236.0 294.0,235.7 293.0,235.6 292.0,235.4 291.0,235.2 290.0,235.0 289.0,234.8 288.0,234.6 287.0,234.5 286.0,234.3 285.0,234.1 284.0,234.0 283.0,233.8 282.0,233.7 281.0,233.6 280.0,233.5 279.0,233.4 278.0,233.4 277.0,233.4 276.0,233.4 275.0,233.4 274.0,233.5 273.0,233.5 272.0,233.6 271.0,233.6 270.0,233.7 269.0,233.8 268.0,233.9 267.0,234.0 266.0,234.2 265.0,234.4 264.0,234.5 263.0,234.7 262.0,234.9 261.0,235.2 260.0,235.4 259.0,235.7 258.0,236.0 257.0,236.3 256.0,236.6 255.0,236.9 254.0,237.3 253.0,237.6 252.0,238.0 251.0,238.3 250.0,238.7 249.0,239.1 248.0,239.4 247.0,239.8 246.0,240.2 245.0,240.6 244.0,241.0 243.0,241.4 242.0,241.8 241.0,242.2 240.0,242.5 239.0,242.9 238.0,243.3 237.0,243.7 236.0,244.1 235.0,244.5 234.0,244.8 233.0,245.2 232.0,245.5 231.0,245.8 230.0,246.1 229.0,246.4 228.0,246.7 227.0,246.9 226.0,247.1 225.0,247.3 224.0,247.5 223.0,247.7 222.0,247.9 221.0,248.0 220.0,248.1 219.0,248.2 218.0,248.3 217.0,248.4 216.0,248.4 215.0,248.4 214.0,248.4 213.0,248.4 212.0,248.4 211.0,248.4 210.0,248.3 209.0,248.3 208.0,248.2 207.0,248.1 206.0,248.0 205.0,247.9 204.0,247.8 203.0,247.7 202.0,247.6 201.0,247.5 200.0,247.4 199.0,247.3 198.0,247.2 197.0,247.1 196.0,247.0 195.0,246.9 194.0,246.9 193.0,246.9 192.0,246.8 191.0,246.9 190.0,246.9 189.0,246.9 188.0,247.0 187.0,247.0 186.0,247.0 185.0,247.0 184.0,247.0 183.0,246.9 182.0,246.8 181.0,246.6 180.0,246.4 179.0,246.0 178.0,245.6 177.0,245.0 176.0,244.4 175.0,243.7 174.0,242.9 173.0,242.1 172.0,241.2 171.0,240.2 170.0,239.3 169.0,238.7 168.0,238.1 167.0,237.5 166.0,236.9 165.0,236.2 164.0,235.5 163.0,234.8 162.0,233.9 161.0,233.0 160.0,231.9 159.0,230.4 158.0,228.8 157.0,227.1 156.0,225.4 155.0,223.8 154.0,222.2 153.0,220.7 152.0,219.3 151.0,218.1 150.0,216.9 149.0,215.6 148.0,214.0 147.0,212.2 146.0,210.0 145.0,207.7 144.0,205.6 143.0,203.8 142.0,202.2 141.0,200.6 140.0,198.8 139.0,196.7 138.0,194.3 137.0,191.6 136.0,188.6 135.0,185.5 134.0,182.3 133.0,179.0 132.0,175.7 131.0,172.4 130.0,169.2 129.0,166.0 128.0,163.0 127.0,160.1 126.0,157.4 125.0,154.8 124.0,152.4 123.0,150.2 122.0,148.2 121.0,146.3 120.0,144.5 119.0,142.7 118.0,140.8 117.0,138.8 116.0,136.6 115.0,134.1 114.0,131.5 113.0,128.9 112.0,126.6 111.0,124.6 110.0,122.8 109.0,121.1 108.0,119.5 107.0,118.2 106.0,117.0 105.0,116.0 104.0,115.1 103.0,114.3 102.0,113.6 101.0,113.0 100.0,112.6 99.0,112.5 98.0,112.6 97.0,112.9 96.0,113.3 95.0,114.0 94.0,114.8 93.0,115.8 92.0,116.6 91.0,117.3 90.0,117.7 89.0,117.8 88.0,117.7 87.0,117.6 86.0,117.5 85.0,117.6 84.0,117.6 83.0,117.8 82.0,118.3 81.0,119.1 80.0,120.1 79.0,121.4 78.0,122.9 77.0,124.7 76.0,126.6 75.0,128.5 74.0,130.5 73.0,132.4 72.0,134.2 71.0,135.8Z" fill="url(#pg)"/>
</g>
<g fill="none" stroke-linecap="butt">
<line x1="70.9" y1="50.9" x2="70.9" y2="329.5" stroke="#a8a8a8" stroke-width="1.5"/>
<line x1="502.8" y1="51.4" x2="502.8" y2="329.5" stroke="#d4b8ca" stroke-width="1.7"/>
<line x1="70.9" y1="130.6" x2="502.8" y2="130.6" stroke="#a5a5a5" stroke-width="1.4"/>
<line x1="70.9" y1="325.4" x2="502.8" y2="325.4" stroke="#8c8c8c" stroke-width="1.4"/>
<g stroke="#888" stroke-width="1.1">
<line x1="66.5" y1="50.9" x2="70.9" y2="50.9"/>
<line x1="66.5" y1="120" x2="70.9" y2="120"/>
<line x1="66.5" y1="188.3" x2="70.9" y2="188.3"/>
<line x1="66.5" y1="256.9" x2="70.9" y2="256.9"/>
<line x1="66.5" y1="325.4" x2="70.9" y2="325.4"/>
<line x1="178.8" y1="325.4" x2="178.8" y2="329.2"/>
<line x1="286.9" y1="325.4" x2="286.9" y2="329.2"/>
<line x1="394.8" y1="325.4" x2="394.8" y2="329.2"/>
</g>
<line x1="78.2" y1="51.4" x2="103.7" y2="51.4" stroke="#151515" stroke-width="1.1"/>
<line x1="78.2" y1="58.5" x2="103.7" y2="58.5" stroke="#9c98b0" stroke-width="1.1"/>
<line x1="78.2" y1="66.2" x2="103.7" y2="66.2" stroke="#e4a8a8" stroke-width="1.1"/>
<path d="M70.90,160.18 75.22,180.69 79.54,184.62 83.86,175.62 88.18,167.04 92.50,167.76 96.81,172.89 101.13,179.99 105.45,186.12 109.77,191.19 114.09,197.32 118.41,205.94 122.73,218.10 127.05,232.31 131.37,245.84 135.69,254.90 140.00,264.58 144.32,271.86 148.64,277.79 152.96,280.74 157.28,281.62 161.60,281.88 165.92,281.71 170.24,281.19 174.56,280.21 178.88,278.83 183.19,277.27 187.51,275.55 191.83,273.65 196.15,271.30 200.47,268.89 204.79,266.51 209.11,265.19 213.43,263.71 217.75,261.93 222.06,259.39 226.38,256.29 230.70,252.47 235.02,248.71 239.34,245.30 243.66,242.12 247.98,239.11 252.30,236.41 256.62,233.55 260.94,230.29 265.25,227.38 269.57,224.91 273.89,222.36 278.21,219.83 282.53,216.88 286.85,213.99 291.17,211.02 295.49,208.34 299.81,206.15 304.13,204.36 308.44,202.87 312.76,202.01 317.08,201.16 321.40,200.32 325.72,199.00 330.04,197.39 334.36,195.40 338.68,193.74 343.00,192.22 347.32,190.74 351.63,188.34 355.95,186.05 360.27,184.01 364.59,180.90 368.91,177.22 373.23,173.54 377.55,170.34 381.87,167.93 386.19,166.03 390.51,164.35 394.83,162.80 399.14,161.19 403.46,159.66 407.78,157.81 412.10,155.10 416.42,151.52 420.74,146.92 425.06,141.48 429.38,135.18 433.70,128.20 438.01,117.50 442.33,106.36 446.65,93.12 450.97,80.10 455.29,67.08 459.61,60.89 463.93,59.82 468.25,64.05 472.57,69.93 476.89,76.16 481.21,81.93 485.52,85.45 489.84,87.75 494.16,90.17 498.48,93.08 502.80,96.20" stroke="#f00c0c" stroke-width="1.8" stroke-linejoin="round"/>
<path d="M70.90,137.00 75.22,139.08 79.54,134.54 83.86,124.94 88.18,119.24 92.50,118.53 96.81,121.79 101.13,129.60 105.45,142.30 109.77,154.55 114.09,164.08 118.41,171.85 122.73,179.22 127.05,188.88 131.37,201.88 135.69,215.22 140.00,227.89 144.32,240.25 148.64,251.70 152.96,259.77 157.28,264.97 161.60,268.73 165.92,271.07 170.24,272.00 174.56,271.83 178.88,270.93 183.19,269.71 187.51,269.18 191.83,268.15 196.15,266.73 200.47,265.01 204.79,262.44 209.11,259.52 213.43,256.15 217.75,252.65 222.06,248.75 226.38,245.35 230.70,242.23 235.02,239.74 239.34,237.53 243.66,235.41 247.98,232.97 252.30,230.46 256.62,227.98 260.94,225.47 265.25,222.97 269.57,221.21 273.89,219.97 278.21,219.49 282.53,219.51 286.85,219.32 291.17,219.73 295.49,220.45 299.81,221.61 304.13,222.65 308.44,223.78 312.76,225.19 317.08,228.20 321.40,231.30 325.72,234.28 330.04,237.12 334.36,239.30 338.68,240.76 343.00,241.95 347.32,243.37 351.63,245.27 355.95,248.22 360.27,251.38 364.59,255.39 368.91,259.95 373.23,264.76 377.55,269.64 381.87,274.52 386.19,277.67 390.51,280.19 394.83,283.26 399.14,285.36 403.46,286.06 407.78,285.42 412.10,283.46 416.42,280.14 420.74,272.78 425.06,262.44 429.38,251.95 433.70,238.12 438.01,221.93 442.33,201.37 446.65,184.32 450.97,165.70 455.29,147.23 459.61,132.23 463.93,121.19 468.25,112.45 472.57,106.15 476.89,102.68 481.21,102.62 485.52,104.96 489.84,107.60 494.16,109.40 498.48,110.95 502.80,112.30" stroke="#0808cc" stroke-width="1.8" stroke-linejoin="round"/>
<path d="M70.90,128.80 75.22,120.25 79.54,112.07 83.86,107.59 88.18,107.98 92.50,105.89 96.81,103.35 101.13,102.62 105.45,105.62 109.77,111.01 114.09,119.56 118.41,129.67 122.73,137.77 127.05,148.44 131.37,161.66 135.69,175.53 140.00,186.78 144.32,194.07 148.64,202.73 152.96,208.83 157.28,215.68 161.60,221.80 165.92,226.10 170.24,230.03 174.56,233.33 178.88,235.31 183.19,236.38 187.51,236.76 191.83,236.97 196.15,237.15 200.47,237.37 204.79,238.03 209.11,238.73 213.43,239.35 217.75,239.79 222.06,239.69 226.38,239.22 230.70,238.25 235.02,236.89 239.34,235.48 243.66,234.07 247.98,232.64 252.30,231.62 256.62,230.64 260.94,229.44 265.25,228.43 269.57,227.90 273.89,227.55 278.21,227.50 282.53,228.07 286.85,228.78 291.17,229.35 295.49,229.98 299.81,230.69 304.13,231.72 308.44,233.10 312.76,235.46 317.08,238.60 321.40,242.04 325.72,245.37 330.04,248.42 334.36,250.75 338.68,252.89 343.00,255.05 347.32,257.78 351.63,260.97 355.95,265.66 360.27,270.00 364.59,274.29 368.91,278.61 373.23,283.13 377.55,287.92 381.87,291.79 386.19,295.41 390.51,298.28 394.83,300.91 399.14,302.98 403.46,303.92 407.78,303.85 412.10,302.74 416.42,300.49 420.74,296.89 425.06,290.34 429.38,279.95 433.70,268.11 438.01,254.09 442.33,237.98 446.65,219.70 450.97,196.94 455.29,177.16 459.61,158.69 463.93,139.42 468.25,124.83 472.57,114.12 476.89,108.14 481.21,106.60 485.52,108.84 489.84,112.28 494.16,115.33 498.48,118.07 502.80,120.40" stroke="#000" stroke-width="1.8" stroke-linejoin="round"/>
</g>
<g font-family="'Liberation Serif','Times New Roman',serif" fill="#222">
<text x="63.3" y="53.8" font-size="8.3" text-anchor="end">0.25</text>
<text x="63.3" y="328.1" font-size="8.3" text-anchor="end">&#8722;0.60</text>
<text x="66" y="121.9" font-size="5.6" text-anchor="end" fill="#555">0.05</text>
<text x="66.7" y="190.1" font-size="5.6" text-anchor="end" fill="#555">&#8722;0.18</text>
<text x="65.9" y="259" font-size="5.6" text-anchor="end" fill="#555">&#8722;0.39</text>
<text x="70.8" y="339.4" font-size="8.3" text-anchor="middle">0.0</text>
<text x="179" y="335.1" font-size="5.6" text-anchor="middle" fill="#555">25.0</text>
<text x="286.8" y="335.1" font-size="5.6" text-anchor="middle" fill="#555">50.0</text>
<text x="395.2" y="335.1" font-size="5.6" text-anchor="middle" fill="#555">75.0</text>
<text x="503" y="339.4" font-size="8.3" text-anchor="middle">100.0</text>
<text x="239.3" y="341.6" font-size="8.5" textLength="97" lengthAdjust="spacingAndGlyphs" stroke="#222" stroke-width="0.25">Normalized (% stance phase)</text>
<text transform="translate(52,247.4) rotate(-90)" x="0" y="0" font-size="8.8" textLength="115" lengthAdjust="spacingAndGlyphs" stroke="#222" stroke-width="0.25">Knee Adduction Moment (Nm/kg)</text>
<g font-weight="bold" font-size="6.7" text-rendering="geometricPrecision">
<text x="106.5" y="53.2" fill="#1a1010" textLength="55.5" lengthAdjust="spacingAndGlyphs">Internal Foot Position</text>
<text x="106.5" y="60.7" fill="#1414c0" textLength="55.5" lengthAdjust="spacingAndGlyphs">Normal Foot Position</text>
<text x="106.5" y="67.9" fill="#e41c1c" textLength="57.3" lengthAdjust="spacingAndGlyphs">External Foot Position</text>
</g>
<text x="175" y="256.8" font-size="12" text-anchor="middle" fill="#3a3a3a">*</text>
<text x="405.8" y="264.9" font-size="12" text-anchor="middle" fill="#3a3a3a">*</text>
</g>
<rect x="2.6" y="2.6" width="543.5" height="364.2" fill="none" stroke="#000" stroke-width="2"/>
</svg></body></html>
